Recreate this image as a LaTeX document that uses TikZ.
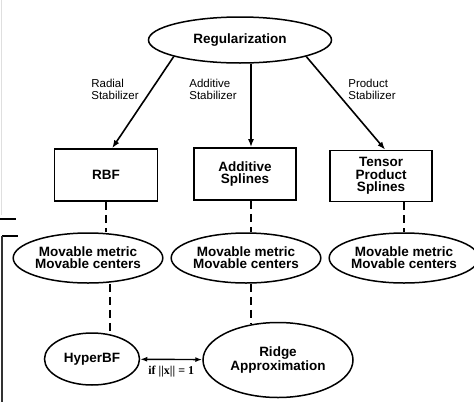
\documentclass[tikz,border=0pt]{standalone}
\usepackage{fontspec}
\setmainfont{Liberation Sans}
\newfontfamily\timesfont{Liberation Serif}
\usetikzlibrary{positioning, arrows.meta, shapes.geometric, calc}

\begin{document}
\begin{tikzpicture}[
    x=1pt, y=-1pt,
    box/.style={rectangle, draw, minimum height=52pt, minimum width=102pt, align=center, font=\fontsize{13.5}{12.5}\selectfont\bfseries, line width=1.6pt, inner sep=1pt},
    oval/.style={ellipse, draw, align=center, font=\fontsize{13.5}{12}\selectfont\bfseries, line width=1.5pt, inner sep=0pt},
    arr/.style={-{Latex[length=8pt, width=6pt]}, line width=1.6pt},
    dashline/.style={dash pattern=on 8pt off 5pt, line width=1.5pt},
    lbl/.style={font=\fontsize{11.5}{12}\selectfont, align=left},
  ]
    \useasboundingbox (0,0) rectangle (474,402);

    % top of the hierarchy
    \node[oval, minimum width=183pt, minimum height=46pt] (reg) at (240,40) {Regularization};

    \node[lbl] (radlbl) at (115,89) {Radial\\Stabilizer};
    \node[lbl] (addlbl) at (213,89) {Additive\\Stabilizer};
    \node[lbl] (prodlbl) at (372,89) {Product\\Stabilizer};

    % schemes
    \node[box, minimum width=103pt] (rbf) at (106,175) {RBF};
    \node[box] (adds) at (245,174) {Additive\\Splines};
    \node[box, minimum height=51pt] (tps) at (381,176) {Tensor\\Product\\Splines};

    % movable metric / centers
    \node[oval, minimum width=138pt, minimum height=50pt] (mm1) at (88,258) {Movable metric\\Movable centers};
    \node[oval, minimum width=138pt, minimum height=50pt] (mm2) at (246,258) {Movable metric\\Movable centers};
    \node[oval, minimum width=139pt, minimum height=50pt] (mm3) at (404,258) {Movable metric\\Movable centers};

    \node[oval, minimum width=95pt, minimum height=52pt] (hb) at (92,359) {HyperBF};
    \node[oval, minimum width=150pt, minimum height=75pt] (ridge) at (278,360) {Ridge\\Approximation};

    \coordinate (midaxis) at (251,0);
    \coordinate (hbaxis) at (110,0);

    \draw[arr] (reg.194) -- (rbf.77);
    \draw[arr] (reg.south -| midaxis) -- (adds.north -| midaxis);
    \draw[arr] (reg.346) -- (tps.81);

    \draw[dashline] (rbf.south) -- (rbf.south |- mm1.north);
    \draw[dashline] (adds.south -| midaxis) -- (mm2.north -| midaxis);
    \draw[dashline] (tps.south -| mm3.north) -- (mm3.north);

    \draw[dashline] (mm1.south -| hbaxis) -- (hb.north -| hbaxis);
    \draw[dashline] (mm2.south -| midaxis) -- (ridge.128 -| midaxis);

    \draw[{Latex[length=7pt, width=5pt]}-{Latex[length=7pt, width=5pt]}, line width=1.4pt] (hb) -- (ridge)
      node[midway, below=3pt, font=\timesfont\bfseries\fontsize{12}{12}\selectfont] (cond) {if ||x|| = 1};

    % crop marks at the left edge
    \draw[gray!25, line width=1pt] (1,0) -- (1,215);
    \draw[line width=1.2pt] (0,219) -- (16,219);
    \draw[line width=1.2pt] (2,236) -- (18,236);
    \draw[black!80, line width=2pt] (2,236) -- (2,402);
\end{tikzpicture}
\end{document}
